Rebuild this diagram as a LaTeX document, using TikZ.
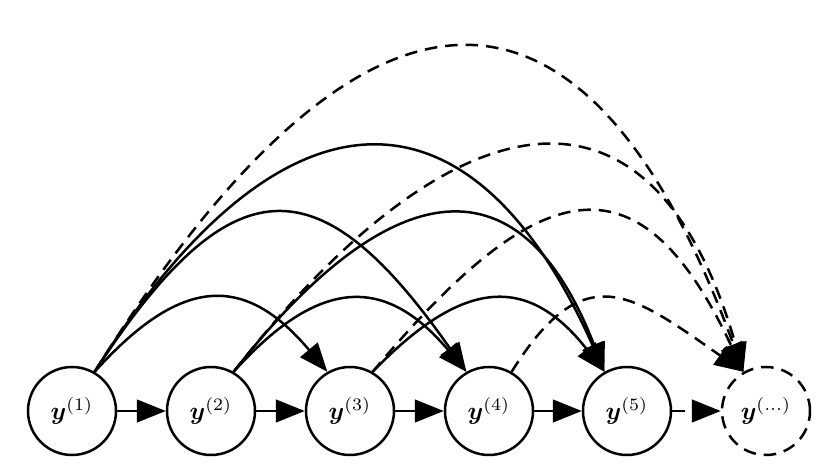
\documentclass[tikz,border=0pt]{standalone}
\usepackage{bm}
\usetikzlibrary{arrows.meta}
\begin{document}
\begin{tikzpicture}[x=0.4pt,y=0.4pt,
  var/.style={circle,draw,line width=1pt,minimum size=35.2pt,inner sep=0pt,fill=white},
  edge/.style={line width=1pt,-{Triangle[length=11.5pt,width=9pt]}},
  dedge/.style={edge,dash pattern=on 5pt off 3.2pt}]
\useasboundingbox (0,0) rectangle (829,474);
\node[var] (y1) at (72,63) {$\bm{y}^{(1)}$};
\node[var] (y2) at (211,63) {$\bm{y}^{(2)}$};
\node[var] (y3) at (350,63) {$\bm{y}^{(3)}$};
\node[var] (y4) at (489,63) {$\bm{y}^{(4)}$};
\node[var] (y5) at (627,63) {$\bm{y}^{(5)}$};
\node[var,dash pattern=on 5pt off 3.2pt] (y6) at (766,63) {$\bm{y}^{(\ldots)}$};
\draw[edge] (y1) -- (y2);
\draw[edge] (y2) -- (y3);
\draw[edge] (y3) -- (y4);
\draw[edge] (y4) -- (y5);
\draw[dedge] (y5) -- (y6);
\draw[edge] (y1.60) .. controls +(48:129) and +(130:129) .. (y3.120);
\draw[edge] (y2.60) .. controls +(48:127) and +(130:127) .. (y4.120);
\draw[edge] (y3.60) .. controls +(46:127) and +(128:127) .. (y5.120);
\draw[dedge] (y4.60) .. controls +(58:137) and +(145:137) .. (y6.120);
\draw[edge] (y1.60) .. controls +(57:254) and +(125:254) .. (y4.120);
\draw[edge] (y2.60) .. controls +(52:242) and +(111:242) .. (y5.120);
\draw[dedge] (y3.60) .. controls +(50:252) and +(115:252) .. (y6.120);
\draw[edge] (y1.60) .. controls +(58:339) and +(114:339) .. (y5.120);
\draw[dedge] (y2.60) .. controls +(52:341) and +(106:341) .. (y6.120);
\draw[dedge] (y1.60) .. controls +(58:482) and +(110:482) .. (y6.120);
\end{tikzpicture}
\end{document}
